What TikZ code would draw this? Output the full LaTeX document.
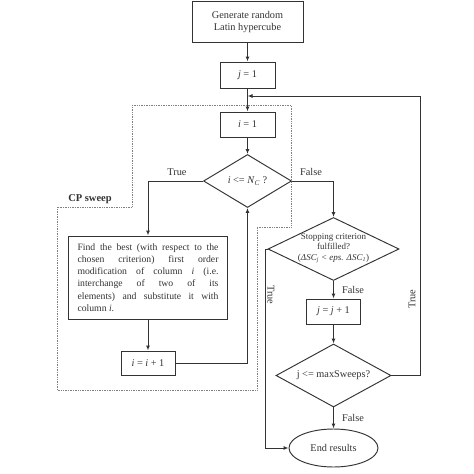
\documentclass[tikz,border=0pt]{standalone}
\usepackage{fontspec}
\setmainfont{Liberation Serif}
\usetikzlibrary{shapes.geometric,arrows.meta}
\definecolor{ln}{HTML}{333333}
\tikzset{
  every node/.style={font=\fontsize{10.3}{12}\selectfont, text=ln},
  box/.style={draw=ln, line width=0.95pt, rectangle, inner sep=2pt, align=center},
  dia/.style={draw=ln, line width=0.95pt, diamond, inner sep=0pt},
  diatext/.style={align=center, inner sep=0pt},
  conn/.style={draw=ln, line width=0.95pt},
  arr/.style={conn, -{Latex[length=5pt,width=4pt]}},
  lbl/.style={inner sep=1pt},
  sweep/.style={draw=gray, line width=0.7pt, densely dotted}
}
\begin{document}
\begin{tikzpicture}[x=1pt,y=-1pt]
\useasboundingbox (0,0) rectangle (474,474);
% CP sweep region
\draw[sweep] (132,105) -- (291,105) -- (291,227) -- (257,227) -- (257,390) -- (57,390) -- (57,207) -- (132,207) -- cycle;
\node[font=\fontsize{10.5}{12}\selectfont\bfseries] (cplbl) at (90,199) {CP sweep};

\node[box, minimum width=111pt, minimum height=41pt] (gen) at (247.5,22) {Generate random\\Latin hypercube};
\node[box, minimum width=55pt, minimum height=26pt] (j1) at (247.5,75) {\textit{j} = 1};
\node[box, minimum width=55pt, minimum height=25pt] (i1) at (247.5,124.5) {\textit{i} = 1};
\node[dia, minimum width=88pt, minimum height=53pt] (d1) at (247.5,181) {};
\node[diatext] (d1t) at (d1.center) {\textit{i} <= \textit{N}\textsubscript{\textit{C}} ?};
\node[box, text width=141pt, inner xsep=9pt, minimum height=83pt, align=justify,
      font=\fontsize{9.7}{12.3}\selectfont] (find) at (148,277.5)
  {Find the best (with respect to the\linebreak chosen criterion) first order\linebreak modification of column \textit{i} (i.e.\linebreak interchange of two of its\linebreak elements) and substitute it with\linebreak column \textit{i}.};
\node[box, minimum width=54pt, minimum height=24pt] (ii) at (148,363) {\textit{i} = \textit{i} + 1};
\node[dia, minimum width=131pt, minimum height=63pt] (d2) at (333.5,249) {};
\node[diatext, font=\fontsize{9}{10.3}\selectfont] (d2t) at (333.5,248)
  {Stopping criterion\\fulfilled?\\(\textit{ΔSC\textsubscript{j} < eps. ΔSC\textsubscript{1}})};
\node[box, minimum width=54pt, minimum height=25pt] (jj) at (333.5,311.5) {\textit{j} = \textit{j} + 1};
\node[dia, minimum width=115pt, minimum height=63pt] (d3) at (333.5,375.5) {};
\node[diatext] (d3t) at (d3.center) {j <= maxSweeps?};
\node[draw=ln, line width=0.95pt, ellipse, minimum width=89pt, minimum height=38pt, inner sep=0pt] (end) at (333.5,448) {End results};

\coordinate (loop) at (420,96);
\coordinate (merge) at (247.5,96);
\coordinate (tleft) at (265,249);

\draw[arr] (gen) -- (j1);
\draw[arr] (j1) -- (i1);
\draw[arr] (i1) -- (d1);
\draw[arr] (d1.west) -| (find.north);
\draw[arr] (find.south) -- (ii.north);
\draw[arr] (ii.east) -| (d1.south);
\draw[arr] (d1.east) -| (d2.north);
\draw[arr] (d2.south) -- (jj.north);
\draw[arr] (jj.south) -- (d3.north);
\draw[arr] (d3.south) -- (end.north);
\draw[conn] (d2.west) -- (tleft);
\draw[arr] (tleft) |- (end.west);
\draw[conn] (d3.east) -| (loop);
\draw[arr] (loop) -- (merge);

\node[lbl] (t1) at (177,172) {True};
\node[lbl] (f1) at (311,172) {False};
\node[lbl] (f2) at (353,290) {False};
\node[lbl] (f3) at (353,418) {False};
\node[lbl, rotate=-90] (t2) at (271,295) {True};
\node[lbl, rotate=90] (t3) at (412,299) {True};
\end{tikzpicture}
\end{document}
